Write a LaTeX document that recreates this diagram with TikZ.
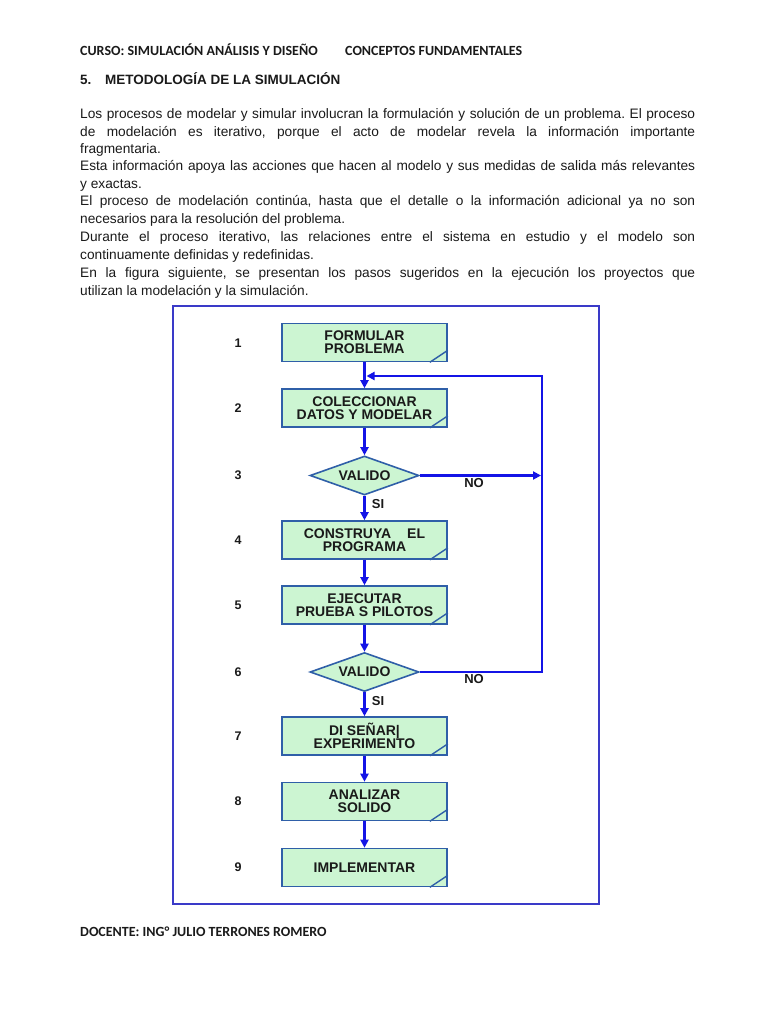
\documentclass[tikz,border=0pt]{standalone}
\usepackage{fontspec}
\setmainfont{Liberation Sans}
\newfontfamily\calib{Carlito}
\usetikzlibrary{shapes.geometric,arrows.meta}
\definecolor{boxfill}{HTML}{CCF5D2}
\definecolor{boxline}{HTML}{2F5FA8}
\definecolor{arrowblue}{HTML}{1414E6}
\definecolor{framecol}{HTML}{3A3AC8}
\definecolor{txt}{HTML}{1A1A1A}
\frenchspacing
\newcommand{\jl}[1]{\makebox[615pt][s]{\spaceskip=0.18em plus 3em minus 0.05em\relax #1}}
\begin{document}
\begin{tikzpicture}[x=1pt,y=-1pt,
  bodytext/.style={anchor=base west,inner sep=0pt,text=txt,font=\fontsize{13.7}{16}\selectfont},
  headtext/.style={anchor=base west,inner sep=0pt,text=txt,font=\calib\bfseries\fontsize{14}{16}\selectfont},
  stepbox/.style={draw=boxline,line width=1.6pt,fill=boxfill,minimum width=165pt,minimum height=38pt,
     inner sep=0pt,align=center,text=txt,font=\bfseries\fontsize{14}{13}\selectfont},
  decbox/.style={diamond,shape aspect=2.8,draw=boxline,line width=1.6pt,fill=boxfill,minimum width=109pt,minimum height=39pt,
     inner sep=0pt,text=txt,font=\bfseries\fontsize{14}{13}\selectfont},
  numlab/.style={inner sep=0pt,text=txt,font=\bfseries\fontsize{12.5}{13}\selectfont},
  smalllab/.style={inner sep=0pt,text=txt,font=\bfseries\fontsize{13}{13}\selectfont},
  conn/.style={draw=arrowblue,line width=2.4pt},
  arr/.style={conn,-{Triangle[length=8pt,width=8pt]}},
  corner/.style={draw=boxline,line width=1.4pt}
]
\useasboundingbox (0,0) rectangle (768,1024);
\fill[white] (0,0) rectangle (768,1024);

% header
\node[headtext] (h1) at (80,56) {CURSO: SIMULACIÓN ANÁLISIS Y DISEÑO};
\node[headtext] (h2) at (345,56) {CONCEPTOS FUNDAMENTALES};
\node[anchor=base west,inner sep=0pt,text=txt,font=\bfseries\fontsize{13.5}{16}\selectfont] (s5) at (80,85) {5.};
\node[anchor=base west,inner sep=0pt,text=txt,font=\bfseries\fontsize{13.5}{16}\selectfont] (s5t) at (105,85) {METODOLOGÍA DE LA SIMULACIÓN};

% paragraph
\node[bodytext] (t1) at (80,119) {\jl{Los procesos de modelar y simular involucran la formulación y solución de un problema. El proceso}};
\node[bodytext] (t2) at (80,137) {\jl{de modelación es iterativo, porque el acto de modelar revela la información importante}};
\node[bodytext] (t3) at (80,154) {fragmentaria.};
\node[bodytext] (t4) at (80,171) {\jl{Esta información apoya las acciones que hacen al modelo y sus medidas de salida más relevantes}};
\node[bodytext] (t5) at (80,189) {y exactas.};
\node[bodytext] (t6) at (80,206) {\jl{El proceso de modelación continúa, hasta que el detalle o la información adicional ya no son}};
\node[bodytext] (t7) at (80,224) {necesarios para la resolución del problema.};
\node[bodytext] (t8) at (80,241) {\jl{Durante el proceso iterativo, las relaciones entre el sistema en estudio y el modelo son}};
\node[bodytext] (t9) at (80,259) {continuamente definidas y redefinidas.};
\node[bodytext] (t10) at (80,277) {\jl{En la figura siguiente, se presentan los pasos sugeridos en la ejecución los proyectos que}};
\node[bodytext] (t11) at (80,295) {utilizan la modelación y la simulación.};

% frame
\draw[framecol,line width=2pt] (172.5,305.5) rectangle (598.5,903.5);

% steps
\node[stepbox] (b1) at (364.5,342.5) {FORMULAR\\PROBLEMA};
\node[stepbox] (b2) at (364.5,408) {COLECCIONAR\\DATOS Y MODELAR};
\node[decbox]  (d3) at (364.5,475.5) {VALIDO};
\node[stepbox] (b4) at (364.5,540) {CONSTRUYA\hspace{16pt}EL\\PROGRAMA};
\node[stepbox] (b5) at (364.5,605) {EJECUTAR\\PRUEBA S PILOTOS};
\node[decbox]  (d6) at (364.5,672) {VALIDO};
\node[stepbox] (b7) at (364.5,736) {DI SEÑAR|\\EXPERIMENTO};
\node[stepbox] (b8) at (364.5,801.5) {ANALIZAR\\SOLIDO};
\node[stepbox] (b9) at (364.5,867.5) {IMPLEMENTAR};

\foreach \b in {b1,b2,b4,b5,b7,b8,b9}{
  \draw[corner] ([xshift=-18pt]\b.south east) -- ([yshift=12pt]\b.south east);
}

% numbers
\node[numlab] (n1) at (238,343) {1};
\node[numlab] (n2) at (238,408) {2};
\node[numlab] (n3) at (238,475) {3};
\node[numlab] (n4) at (238,540) {4};
\node[numlab] (n5) at (238,605) {5};
\node[numlab] (n6) at (238,672) {6};
\node[numlab] (n7) at (238,736) {7};
\node[numlab] (n8) at (238,801) {8};
\node[numlab] (n9) at (238,867) {9};

% connectors
\draw[arr] (b1) -- (b2);
\draw[arr] (b2) -- (d3);
\draw[arr] (d3) -- (b4);
\draw[arr] (b4) -- (b5);
\draw[arr] (b5) -- (d6);
\draw[arr] (d6) -- (b7);
\draw[arr] (b7) -- (b8);
\draw[arr] (b8) -- (b9);

\coordinate (lt) at (542,376);
\coordinate (lm) at (366.5,376);
\coordinate (l3) at (541,475.5);
\coordinate (l6) at (542,672);
\draw[conn] (d6.east) -- (l6) -- ([yshift=-1.2pt]lt);
\draw[arr] ([xshift=1.2pt]lt) -- (lm);
\draw[arr] (d3.east) -- (l3);

% labels
\node[smalllab] (no1) at (474,483) {NO};
\node[smalllab] (no2) at (474,679) {NO};
\node[smalllab] (si1) at (378,504) {SI};
\node[smalllab] (si2) at (378,701) {SI};

% footer
\node[headtext] (doc) at (80,936) {DOCENTE: ING° JULIO TERRONES ROMERO};
\end{tikzpicture}
\end{document}
